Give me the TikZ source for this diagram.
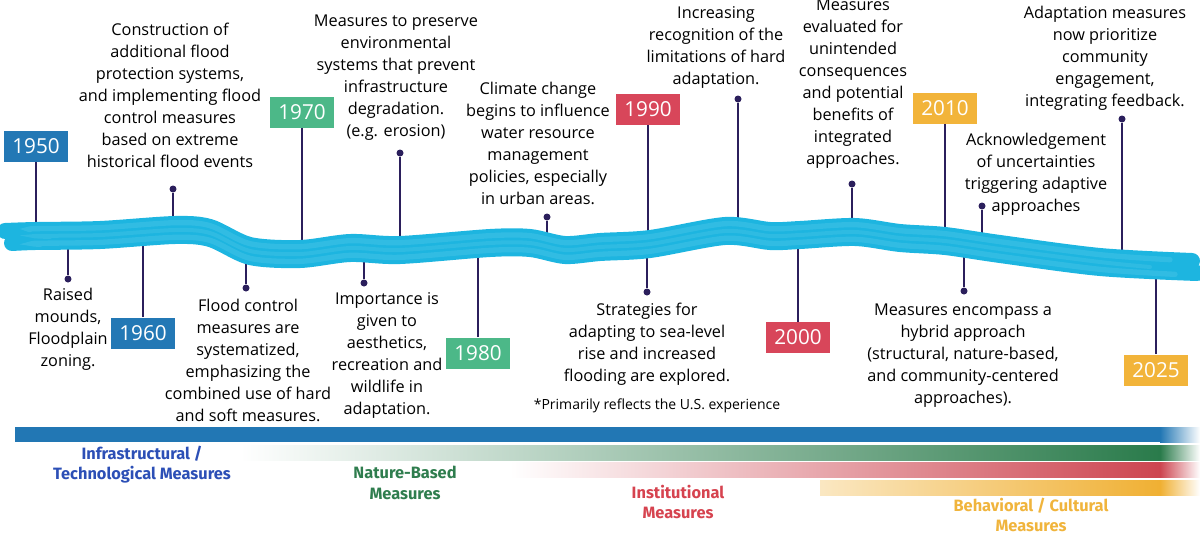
\documentclass[tikz,border=0pt]{standalone}
\usepackage{fontspec}
\setmainfont{Open Sans}
\newfontfamily\catfont{Fira Sans}
\definecolor{pinc}{HTML}{2B1F5C}
\definecolor{riverc}{HTML}{1DB5E0}
\definecolor{riverlt}{HTML}{62CDEB}
\definecolor{bluec}{HTML}{2378B5}
\definecolor{greenc}{HTML}{4CB888}
\definecolor{redc}{HTML}{D8465A}
\definecolor{yellowc}{HTML}{F2B43A}
\definecolor{barblue}{HTML}{2277B4}
\definecolor{bargreen}{HTML}{2A7B4B}
\definecolor{barred}{HTML}{CD4550}
\definecolor{baryellow}{HTML}{F0B033}
\definecolor{txtblue}{HTML}{2C4FB6}
\definecolor{txtgreen}{HTML}{2F7D4E}
\definecolor{txtred}{HTML}{D6434F}
\definecolor{txtyellow}{HTML}{F0B43C}

\begin{document}
\begin{tikzpicture}[x=0.75pt,y=-0.75pt]
\tikzstyle{every node}+=[inner sep=0pt]
\tikzstyle{yearbox}=[minimum width=48pt, minimum height=23.25pt, text=white, font=\fontsize{15.5}{18}\selectfont]
\tikzstyle{txt}=[align=center, text=black, font=\fontsize{12.2}{16.5}\selectfont]
\tikzstyle{cat}=[align=center, font=\catfont\bfseries\fontsize{12.3}{15.5}\selectfont]
\tikzstyle{dot}=[circle, fill=pinc, minimum size=5.25pt]
\tikzstyle{yearpin}=[pinc, line width=2.2pt]
\tikzstyle{dotpin}=[pinc, line width=1.1pt]
\useasboundingbox (0,0) rectangle (1200,536);
\fill [barblue] (15,427) rectangle (1160,442);
\shade [left color=barblue, right color=white] (1160,427) rectangle (1200,442);
\shade [left color=white, right color=bargreen] (240,445) rectangle (1160,460);
\shade [left color=bargreen, right color=white] (1160,445) rectangle (1200,460);
\shade [left color=white, right color=barred] (510,462) rectangle (1160,477);
\shade [left color=barred, right color=white] (1160,462) rectangle (1200,477);
\shade [left color=baryellow!30, right color=baryellow] (820,480) rectangle (1160,495);
\shade [left color=baryellow, right color=white] (1160,480) rectangle (1200,495);
\node [cat, text=txtblue] (cInfra) at (142,464.5) {Infrastructural /\\Technological Measures};
\node [cat, text=txtgreen] (cNature) at (405,483) {Nature-Based\\Measures};
\node [cat, text=txtred] (cInst) at (678,502) {Institutional\\Measures};
\node [cat, text=txtyellow] (cBehav) at (1031,515) {Behavioral / Cultural\\Measures};
\node [yearbox, fill=bluec] (y1950) at (36,146) {1950};
\node [yearbox, fill=bluec] (y1960) at (143,333) {1960};
\node [yearbox, fill=greenc] (y1970) at (302,112) {1970};
\node [yearbox, fill=greenc] (y1980) at (478,353) {1980};
\node [yearbox, fill=redc] (y1990) at (648,109.5) {1990};
\node [yearbox, fill=redc] (y2000) at (798,337.5) {2000};
\node [yearbox, fill=yellowc] (y2010) at (945,108) {2010};
\node [yearbox, fill=yellowc] (y2025) at (1156,370) {2025};
\node [txt] (tRaised) at (68,329) {Raised\\mounds,\\Floodplain\\zoning.};
\node [txt] (tConstr) at (170,95) {Construction of\\additional flood\\protection systems,\\and implementing flood\\control measures\\based on extreme\\historical flood events};
\node [txt] (tSystem) at (248,360) {Flood control\\measures are\\systematized,\\emphasizing the\\combined use of hard\\and soft measures.};
\node [txt] (tPreserve) at (396,78) {Measures to preserve\\environmental\\systems that prevent\\infrastructure\\degradation.\\(e.g. erosion)};
\node [txt] (tAesthetic) at (387,355) {Importance is\\given to\\aesthetics,\\recreation and\\wildlife in\\adaptation.};
\node [txt] (tClimate) at (538,143.5) {Climate change\\begins to influence\\water resource\\management\\policies, especially\\in urban areas.};
\node [txt] (tSeaLevel) at (647,344) {Strategies for\\adapting to sea-level\\rise and increased\\flooding are explored.};
\node [txt, font=\fontsize{10.5}{13}\selectfont] (tNote) at (657,406) {*Primarily reflects the U.S. experience};
\node [txt] (tLimits) at (716,47) {Increasing\\recognition of the\\limitations of hard\\adaptation.};
\node [txt] (tEval) at (853,84) {Measures\\evaluated for\\unintended\\consequences\\and potential\\benefits of\\integrated\\approaches.};
\node [txt] (tHybrid) at (963,355.5) {Measures encompass a\\hybrid approach\\(structural, nature-based,\\and community-centered\\approaches).};
\node [txt] (tUncert) at (1036,174) {Acknowledgement\\of uncertainties\\triggering adaptive\\approaches};
\node [txt] (tCommunity) at (1105,58) {Adaptation measures\\now prioritize\\community\\engagement,\\integrating feedback.};
\node [dot] (dRaised) at (68,279) {};
\node [dot] (dConstr) at (173,189) {};
\node [dot] (dSystem) at (246,288) {};
\node [dot] (dPreserve) at (400,153) {};
\node [dot] (dAesthetic) at (364,283) {};
\node [dot] (dClimate) at (547,217) {};
\node [dot] (dSeaLevel) at (647,292) {};
\node [dot] (dLimits) at (738,99) {};
\node [dot] (dEval) at (852,184) {};
\node [dot] (dUncert) at (982,206) {};
\node [dot] (dHybrid) at (964,291) {};
\node [dot] (dCommunity) at (1122,119) {};
\coordinate (r1950) at (36,236);
\coordinate (r1960) at (143,233);
\coordinate (r1970) at (302,254);
\coordinate (r1980) at (478,244);
\coordinate (r1990) at (648,244);
\coordinate (r2000) at (798,235);
\coordinate (r2010) at (945,240);
\coordinate (r2025) at (1156,266);
\coordinate (rRaised) at (68,240);
\coordinate (rConstr) at (173,232);
\coordinate (rSystem) at (246,248);
\coordinate (rPreserve) at (400,250);
\coordinate (rAesthetic) at (364,248);
\coordinate (rClimate) at (547,247);
\coordinate (rSeaLevel) at (647,244);
\coordinate (rLimits) at (738,232);
\coordinate (rEval) at (852,231);
\coordinate (rUncert) at (982,245);
\coordinate (rHybrid) at (964,243);
\coordinate (rCommunity) at (1122,263);
\draw [yearpin] (y1950.south) -- (r1950);
\draw [yearpin] (y1960.north) -- (r1960);
\draw [yearpin] (y1970.south) -- (r1970);
\draw [yearpin] (y1980.north) -- (r1980);
\draw [yearpin] (y1990.south) -- (r1990);
\draw [yearpin] (y2000.north) -- (r2000);
\draw [yearpin] (y2010.south) -- (r2010);
\draw [yearpin] (y2025.north) -- (r2025);
\foreach \n in {Raised,Constr,System,Preserve,Aesthetic,Climate,SeaLevel,Limits,Eval,Uncert,Hybrid,Community}
  \draw [dotpin] (d\n) -- (r\n);
\foreach \dy/\wd/\col/\op/\xa/\xb in {4.5/12/riverc/1/5/1192, -4.5/12/riverc/1/12/1197, 5.5/4/riverlt/0.3/30/1170, 0/3/riverlt/0.25/50/1150, -5.5/4/riverlt/0.3/40/1175}
  \draw [color=\col, opacity=\op, line width=\wd pt, line cap=round, yshift=\dy pt] plot [smooth, tension=0.5] coordinates {(\xa,237) (35,236) (100,235) (175,230) (210,233) (250,251) (300,254) (350,248) (400,250) (490,243) (530,243) (565,250) (600,247) (650,244) (725,231) (770,236) (800,235) (855,232) (900,238) (945,241) (1000,249) (1100,262) (\xb,267)};
\end{tikzpicture}
\end{document}
